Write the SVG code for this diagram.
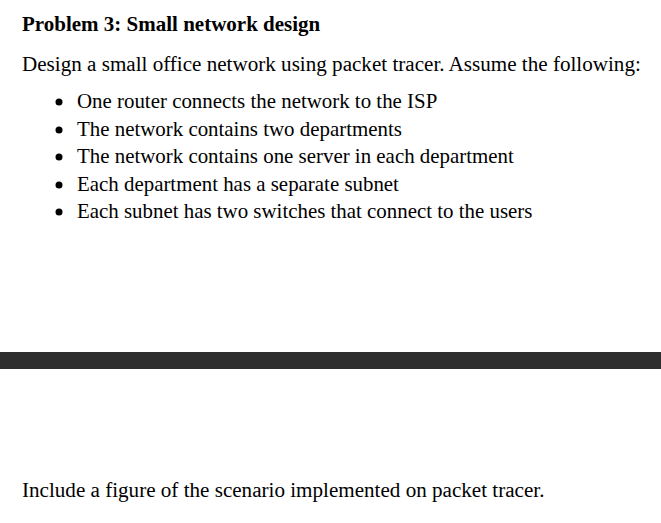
<svg xmlns="http://www.w3.org/2000/svg" width="661" height="523" viewBox="0 0 661 523">
<style>
text{font-family:"Liberation Serif","Times New Roman",serif;fill:#000}
.t{font-size:21px;font-weight:bold}
.p{font-size:21.1px}
.b{font-size:20.9px}
</style>
<rect width="661" height="523" fill="#fff"/>
<text class="t" x="22" y="31">Problem 3: Small network design</text>
<text class="p" x="22" y="71">Design a small office network using packet tracer. Assume the following:</text>
<g>
<circle cx="59" cy="102" r="3.5"/><text class="b" x="77" y="108">One router connects the network to the ISP</text>
<circle cx="59" cy="130" r="3.5"/><text class="b" x="77" y="136">The network contains two departments</text>
<circle cx="59" cy="157" r="3.5"/><text class="b" x="77" y="163">The network contains one server in each department</text>
<circle cx="59" cy="185" r="3.5"/><text class="b" x="77" y="191">Each department has a separate subnet</text>
<circle cx="59" cy="212" r="3.5"/><text class="b" x="77" y="218">Each subnet has two switches that connect to the users</text>
</g>
<rect x="0" y="352" width="661" height="17" fill="#2e2e2e"/>
<text class="p" x="22" y="497">Include a figure of the scenario implemented on packet tracer.</text>
</svg>
